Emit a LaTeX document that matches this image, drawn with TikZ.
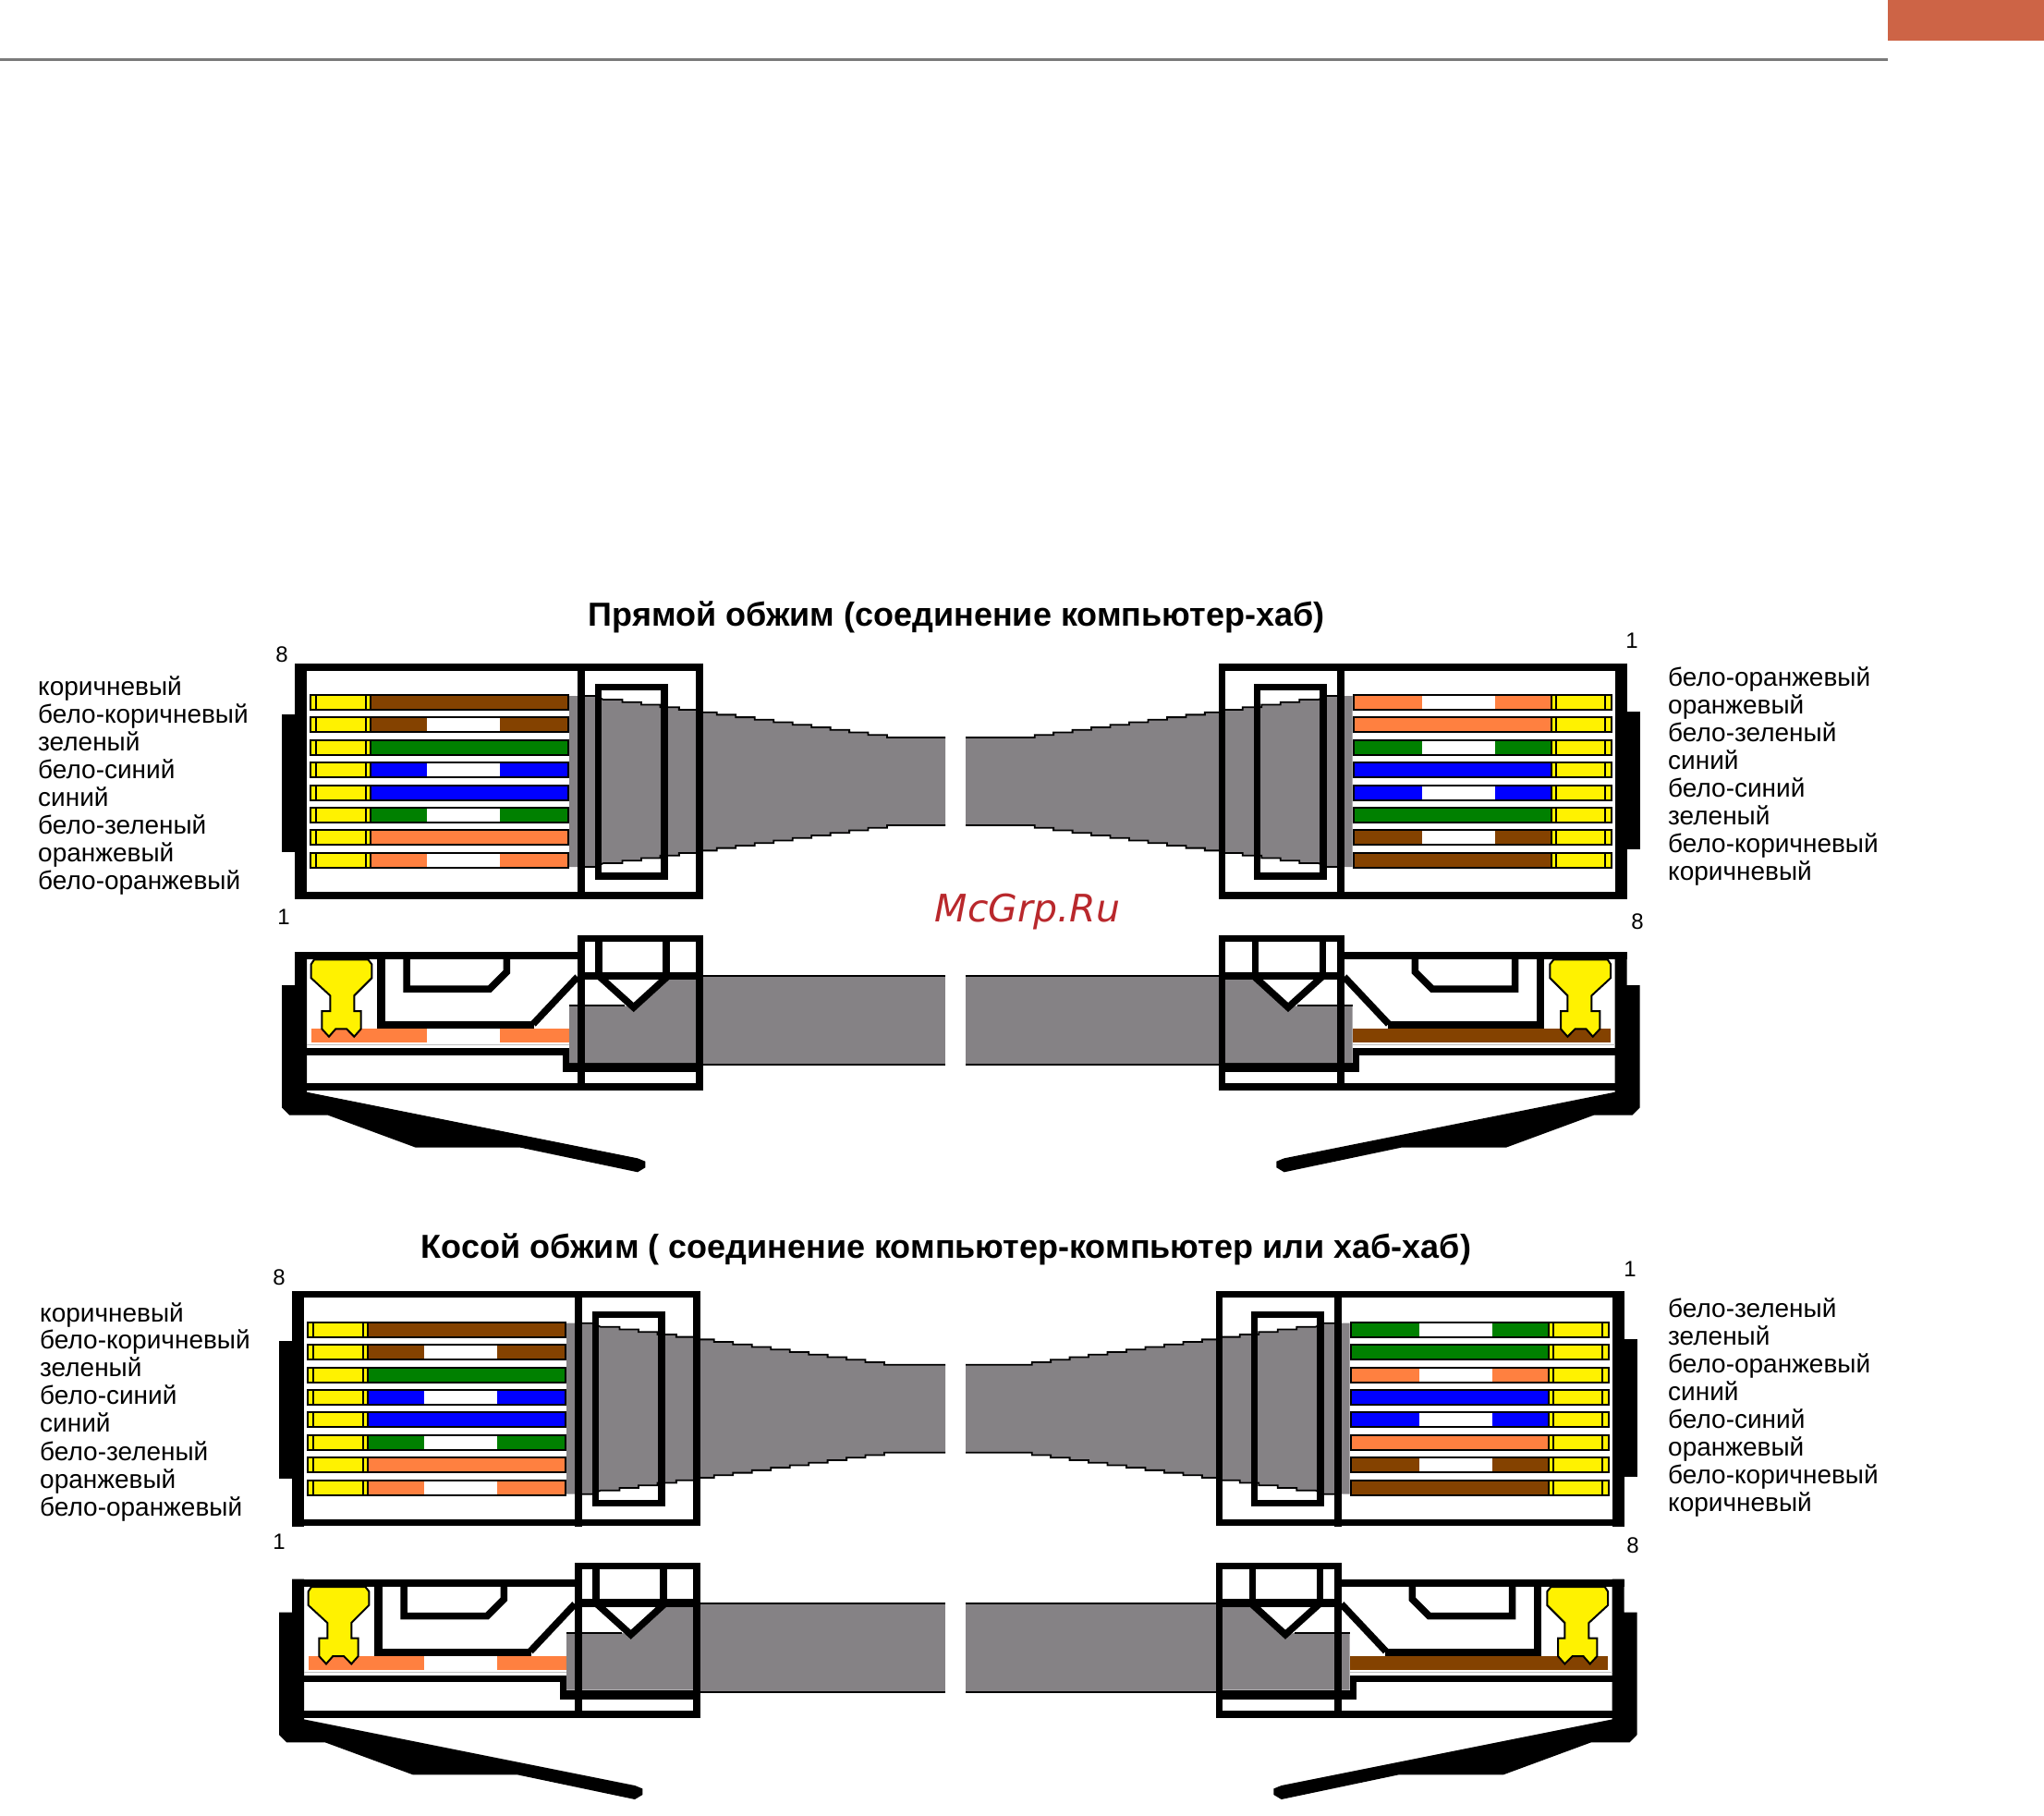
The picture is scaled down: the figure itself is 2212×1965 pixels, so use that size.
\documentclass[tikz,border=0pt]{standalone}
\usepackage{fontspec}
\setmainfont{Liberation Sans}
\newfontfamily\markfont{DejaVu Sans}

\definecolor{wirebrown}{HTML}{844200}
\definecolor{wiregreen}{HTML}{008000}
\definecolor{wireblue}{HTML}{0000FF}
\definecolor{wireorange}{HTML}{FF8040}
\definecolor{cablegrey}{HTML}{858285}
\definecolor{sheetred}{HTML}{CD6446}
\definecolor{markred}{HTML}{B9282C}
\definecolor{rulegrey}{HTML}{7A7A7A}

\tikzset{
  heavy/.style={draw=black,line width=7.5},
  thinline/.style={draw=black,line width=2},
  cableedge/.style={draw=black,line width=1.8},
  wirelabel/.style={font=\fontsize{28}{30}\selectfont,align=left,anchor=north west,inner sep=0},
  pinlabel/.style={font=\fontsize{24}{24}\selectfont,inner sep=0},
  titlelabel/.style={font=\fontsize{36}{36}\selectfont\bfseries,inner sep=0},
  mirrored/.style={shift={(2079.7,0)},xscale=-1},
  lowerset/.style={shift={(-3,678.7)}}
}

% one conductor seen from above: y of its middle, colour
\newcommand{\wiresolid}[2]{
  \draw [thinline,fill=yellow] (335.5,#1-8) rectangle (400.7,#1+8) ;
  \draw [thinline] (342.3,#1-8) -- (342.3,#1+8) ;
  \draw [thinline] (395.7,#1-8) -- (395.7,#1+8) ;
  \draw [thinline,fill=#2] (400.7,#1-8) rectangle (615,#1+8) ;
}
\newcommand{\wirestriped}[2]{
  \wiresolid{#1}{#2}
  \fill [white] (462,#1-7) rectangle (541,#1+7) ;
}

% plug from above: top of the tab, end of the cable
\newcommand{\plugtop}[2]{
  \fill [cablegrey] (616,753) -- (644,753) -- (653,757) \foreach \k in {1,...,15} { -- ++(20.47,0) -- ++(0,2.73) } -- (#2,798) -- (#2,893) -- (960,893) \foreach \k in {1,...,15} { -- ++(0,2.73) -- ++(-20.47,0) } -- (644,938) -- (616,938) -- cycle ;
  \draw [cableedge] (625,753) -- (644,753) -- (653,757) \foreach \k in {1,...,15} { -- ++(20.47,0) -- ++(0,2.73) } -- (#2,798) ;
  \draw [cableedge] (625,938) -- (644,938) -- (653,934) \foreach \k in {1,...,15} { -- ++(20.47,0) -- ++(0,-2.73) } -- (#2,893) ;
  \draw [heavy] (322.7,722) rectangle (757,969) ;
  \fill (319,718) rectangle (332,973) ;
  \fill (305,#1) rectangle (319,#1+149) ;
  \fill (625,718) rectangle (632.7,973) ;
  \draw [heavy] (647.7,743.7) rectangle (719,948) ;
}

% plug from the side: colour of the conductor, end of the cable
\newcommand{\plugside}[2]{
  \fill [cablegrey] (761,1056) rectangle (#2,1152) ;
  \draw [cableedge] (761,1056) -- (#2,1056) ;
  \draw [cableedge] (761,1152) -- (#2,1152) ;
  \fill (305,1066) -- (319,1066) -- (319,1030) -- (332,1030) -- (332,1181.7) -- (690,1253.3) -- (698.3,1256.7) -- (698.3,1263.3) -- (690,1268.3) -- (563.3,1241.7) -- (450,1241.7) -- (355,1206.7) -- (313.3,1206.7) -- (305,1198.3) -- cycle ;
  \fill (319,1030) rectangle (625,1038) ;
  \fill (319,1172) rectangle (761,1180) ;
  \fill (332,1134) rectangle (616,1141.7) ;
  \fill (609,1134) rectangle (616,1160) ;
  \fill (609,1150) rectangle (761,1160) ;
  \fill [cablegrey] (616,1088.3) -- (676,1088.3) -- (685.7,1090) -- (723,1060) -- (754,1060) -- (754,1150) -- (616,1150) -- cycle ;
  \draw [thinline] (616,1088.3) -- (676,1088.3) ;
  \draw [heavy] (628.8,1015.7) rectangle (757,1176) ;
  \fill (625,1051.7) rectangle (761,1060) ;
  \fill (644.3,1012) rectangle (651.7,1060) ;
  \fill (717.3,1012) rectangle (725,1060) ;
  \draw [heavy] (648,1056) -- (685.7,1090) -- (723,1056) ;
  \fill (408.3,1038) rectangle (416.7,1113.3) ;
  \fill (408.3,1105) rectangle (578,1113.3) ;
  \draw [heavy] (577,1108) -- (625,1057) ;
  \draw [heavy] (440,1038) -- (440,1070) -- (530,1070) -- (548.3,1051.7) -- (548.3,1038) ;
  \draw [draw=black!25,line width=1] (332,1130.7) -- (616,1130.7) ;
  \fill [#1] (337,1113.3) rectangle (616,1128.3) ;
  \draw [thinline,fill=yellow] (340,1038.3) -- (398.3,1038.3) -- (402.3,1043.3) -- (402.3,1058.3) -- (383.3,1077.3) -- (383.3,1094) -- (390.7,1094) -- (390.7,1113.3) -- (383.3,1121.7) -- (375,1113.3) -- (363.3,1113.3) -- (356,1121.7) -- (348.3,1113.3) -- (348.3,1094) -- (357.3,1094) -- (357.3,1077.3) -- (336.7,1058.3) -- (336.7,1043.3) -- cycle ;
}

\begin{document}
\begin{tikzpicture}[x=1pt,y=-1pt]

\useasboundingbox (0,0) rectangle (2212,1965) ;

\fill [sheetred] (2043,0) rectangle (2212,43.5) ;
\draw [draw=rulegrey,line width=3] (0,64) -- (2043,64) ;

\node [titlelabel] (straighttitle) at (1035,668) {Прямой обжим (соединение компьютер-хаб)} ;
\node [titlelabel] (crosstitle) at (1024,1352) {Косой обжим ( соединение компьютер-компьютер или хаб-хаб)} ;
\node [font=\fontsize{41}{41}\markfont\itshape,text=markred,inner sep=0] (watermark) at (1112,987) {McGrp.Ru} ;

\node [wirelabel] (leftupper) at (41,732) {коричневый\\бело-коричневый\\зеленый\\бело-синий\\синий\\бело-зеленый\\оранжевый\\бело-оранжевый} ;
\node [wirelabel] (rightupper) at (1805,722) {бело-оранжевый\\оранжевый\\бело-зеленый\\синий\\бело-синий\\зеленый\\бело-коричневый\\коричневый} ;
\node [wirelabel] (leftlower) at (43,1409) {коричневый\\бело-коричневый\\зеленый\\бело-синий\\синий\\бело-зеленый\\оранжевый\\бело-оранжевый} ;
\node [wirelabel] (rightlower) at (1805,1404) {бело-зеленый\\зеленый\\бело-оранжевый\\синий\\бело-синий\\оранжевый\\бело-коричневый\\коричневый} ;

\node [pinlabel] (pinA) at (305,708) {8} ;
\node [pinlabel] (pinB) at (307,992) {1} ;
\node [pinlabel] (pinC) at (1766,693) {1} ;
\node [pinlabel] (pinD) at (1772,997) {8} ;
\node [pinlabel] (pinE) at (302,1382) {8} ;
\node [pinlabel] (pinF) at (302,1668) {1} ;
\node [pinlabel] (pinG) at (1764,1373) {1} ;
\node [pinlabel] (pinH) at (1767,1672) {8} ;

\plugtop{772.7}{1023}
\wiresolid{760}{wirebrown}
\wirestriped{784.4}{wirebrown}
\wiresolid{808.8}{wiregreen}
\wirestriped{833.2}{wireblue}
\wiresolid{857.6}{wireblue}
\wirestriped{882}{wiregreen}
\wiresolid{906.4}{wireorange}
\wirestriped{930.8}{wireorange}
\plugside{wireorange}{1023}
\fill [white] (462,1113.3) rectangle (541,1128.3) ;

\begin{scope}[mirrored]
\plugtop{770}{1034.7}
\wirestriped{760}{wireorange}
\wiresolid{784.4}{wireorange}
\wirestriped{808.8}{wiregreen}
\wiresolid{833.2}{wireblue}
\wirestriped{857.6}{wireblue}
\wiresolid{882}{wiregreen}
\wirestriped{906.4}{wirebrown}
\wiresolid{930.8}{wirebrown}
\plugside{wirebrown}{1034.7}
\end{scope}

\begin{scope}[lowerset]
\plugtop{772}{1026}
\wiresolid{760}{wirebrown}
\wirestriped{784.4}{wirebrown}
\wiresolid{808.8}{wiregreen}
\wirestriped{833.2}{wireblue}
\wiresolid{857.6}{wireblue}
\wirestriped{882}{wiregreen}
\wiresolid{906.4}{wireorange}
\wirestriped{930.8}{wireorange}
\plugside{wireorange}{1026}
\fill [white] (462,1113.3) rectangle (541,1128.3) ;
\end{scope}

\begin{scope}[lowerset,mirrored]
\plugtop{770}{1031.7}
\wirestriped{760}{wiregreen}
\wiresolid{784.4}{wiregreen}
\wirestriped{808.8}{wireorange}
\wiresolid{833.2}{wireblue}
\wirestriped{857.6}{wireblue}
\wiresolid{882}{wireorange}
\wirestriped{906.4}{wirebrown}
\wiresolid{930.8}{wirebrown}
\plugside{wirebrown}{1031.7}
\end{scope}

\end{tikzpicture}
\end{document}
